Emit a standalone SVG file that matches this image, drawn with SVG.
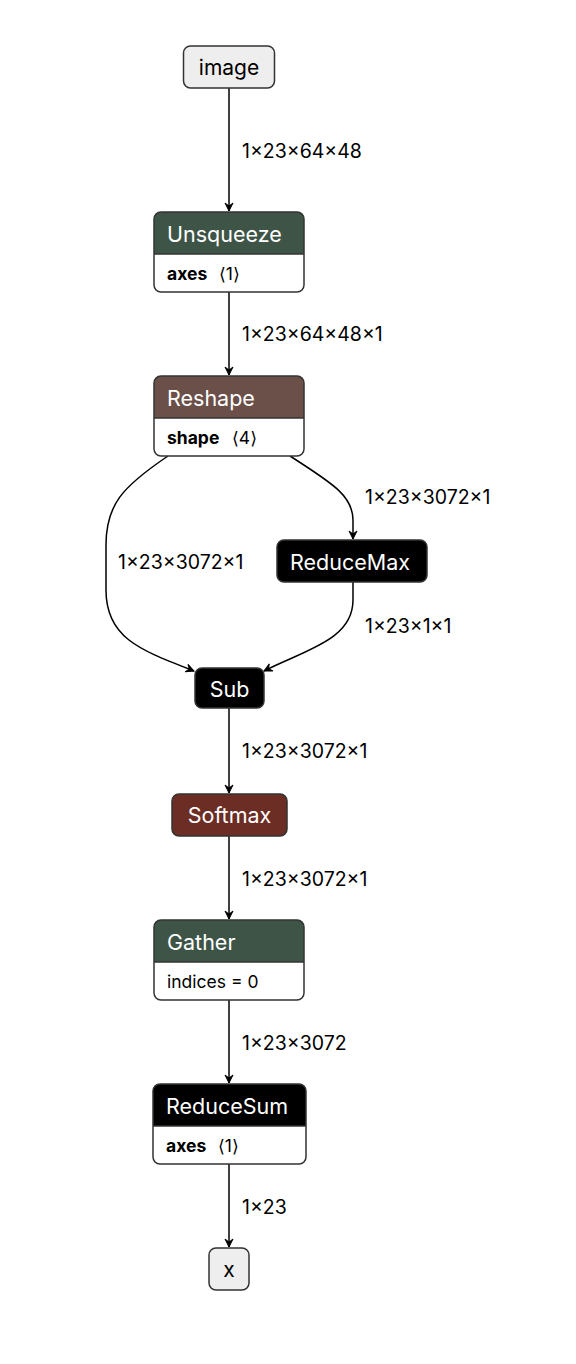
<svg xmlns="http://www.w3.org/2000/svg" width="576" height="1364" viewBox="0 0 576 1364">
<style>
  .t { font-family: Inter, "Noto Sans", "DejaVu Sans", sans-serif; }
  .hdr { font-size: 21.5px; fill: #fff; }
  .io { font-size: 21px; fill: #000; }
  .lbl { font-size: 19.5px; fill: #000; }
  .attr { font-size: 17.5px; fill: #000; }
  .b { font-weight: bold; }
  .box { stroke: #333; stroke-width: 1.5; }
  .edge { fill: none; stroke: #000; stroke-width: 1.5; }
</style>
<defs>
  <marker id="arr" markerWidth="10" markerHeight="10" refX="9" refY="5" orient="auto" markerUnits="userSpaceOnUse">
    <path d="M1,1 L9,5 L1,9 L4,5 z" fill="#000" stroke="#000" stroke-width="1"/>
  </marker>
</defs>
<rect width="576" height="1364" fill="#fff"/>

<g id="connectors">
  <path class="edge" d="M229,88 L229,211" marker-end="url(#arr)"/>
  <path class="edge" d="M229,292 L229,375" marker-end="url(#arr)"/>
  <path class="edge" d="M168,456 C122,487 106,505 106,545 L106,590 C106,638 140,650 194,671" marker-end="url(#arr)"/>
  <path class="edge" d="M290,456 C330,482 353,495 353,520 L353,539" marker-end="url(#arr)"/>
  <path class="edge" d="M353,582 L353,600 C353,640 305,650 264,671" marker-end="url(#arr)"/>
  <path class="edge" d="M229,708 L229,793" marker-end="url(#arr)"/>
  <path class="edge" d="M229,836 L229,919" marker-end="url(#arr)"/>
  <path class="edge" d="M229,1000 L229,1083" marker-end="url(#arr)"/>
  <path class="edge" d="M229,1164 L229,1247" marker-end="url(#arr)"/>
  <g class="t lbl">
    <text x="242" y="158">1×23×64×48</text>
    <text x="242" y="341">1×23×64×48×1</text>
    <text x="365" y="504">1×23×3072×1</text>
    <text x="118" y="569">1×23×3072×1</text>
    <text x="365" y="633">1×23×1×1</text>
    <text x="242" y="758">1×23×3072×1</text>
    <text x="242" y="886">1×23×3072×1</text>
    <text x="242" y="1050">1×23×3072</text>
    <text x="242" y="1214">1×23</text>
  </g>
</g>

<g id="node-image">
  <rect class="box" x="183.5" y="46" width="91" height="42" rx="7" fill="#eee"/>
  <text class="t io" x="229" y="75" text-anchor="middle">image</text>
</g>

<g id="node-unsqueeze">
  <path d="M154,254 L154,219 Q154,212 161,212 L297,212 Q304,212 304,219 L304,254 Z" fill="#3d5446"/>
  <path d="M154,254 L304,254 L304,285 Q304,292 297,292 L161,292 Q154,292 154,285 Z" fill="#fff"/>
  <rect class="box" x="154" y="212" width="150" height="80" rx="7" fill="none"/>
  <line x1="154" y1="254" x2="304" y2="254" stroke="#333" stroke-width="1.5"/>
  <text class="t hdr" x="167" y="242">Unsqueeze</text>
  <text class="t attr" x="167" y="280"><tspan class="b">axes</tspan><tspan x="219">⟨1⟩</tspan></text>
</g>

<g id="node-reshape">
  <path d="M154,418 L154,383 Q154,376 161,376 L297,376 Q304,376 304,383 L304,418 Z" fill="#6a5048"/>
  <path d="M154,418 L304,418 L304,449 Q304,456 297,456 L161,456 Q154,456 154,449 Z" fill="#fff"/>
  <rect class="box" x="154" y="376" width="150" height="80" rx="7" fill="none"/>
  <line x1="154" y1="418" x2="304" y2="418" stroke="#333" stroke-width="1.5"/>
  <text class="t hdr" x="167" y="406">Reshape</text>
  <text class="t attr" x="167" y="444"><tspan class="b">shape</tspan><tspan x="232">⟨4⟩</tspan></text>
</g>

<g id="node-reducemax">
  <rect class="box" x="277" y="540" width="150" height="42" rx="7" fill="#000"/>
  <text class="t hdr" x="290" y="570">ReduceMax</text>
</g>

<g id="node-sub">
  <rect class="box" x="195" y="668" width="69" height="40" rx="7" fill="#000"/>
  <text class="t hdr" x="229.5" y="697" text-anchor="middle">Sub</text>
</g>

<g id="node-softmax">
  <rect class="box" x="172" y="794" width="115" height="42" rx="7" fill="#6b2d24"/>
  <text class="t hdr" x="229.5" y="823" text-anchor="middle">Softmax</text>
</g>

<g id="node-gather">
  <path d="M154,962 L154,927 Q154,920 161,920 L297,920 Q304,920 304,927 L304,962 Z" fill="#3d5446"/>
  <path d="M154,962 L304,962 L304,993 Q304,1000 297,1000 L161,1000 Q154,1000 154,993 Z" fill="#fff"/>
  <rect class="box" x="154" y="920" width="150" height="80" rx="7" fill="none"/>
  <line x1="154" y1="962" x2="304" y2="962" stroke="#333" stroke-width="1.5"/>
  <text class="t hdr" x="167" y="950">Gather</text>
  <text class="t attr" x="167" y="988">indices = 0</text>
</g>

<g id="node-reducesum">
  <path d="M153,1126 L153,1091 Q153,1084 160,1084 L299,1084 Q306,1084 306,1091 L306,1126 Z" fill="#000"/>
  <path d="M153,1126 L306,1126 L306,1157 Q306,1164 299,1164 L160,1164 Q153,1164 153,1157 Z" fill="#fff"/>
  <rect class="box" x="153" y="1084" width="153" height="80" rx="7" fill="none"/>
  <line x1="153" y1="1126" x2="306" y2="1126" stroke="#333" stroke-width="1.5"/>
  <text class="t hdr" x="166" y="1114">ReduceSum</text>
  <text class="t attr" x="166" y="1152"><tspan class="b">axes</tspan><tspan x="218">⟨1⟩</tspan></text>
</g>

<g id="node-x">
  <rect class="box" x="209" y="1248" width="40" height="42" rx="7" fill="#eee"/>
  <text class="t io" x="229" y="1277" text-anchor="middle">x</text>
</g>
</svg>
